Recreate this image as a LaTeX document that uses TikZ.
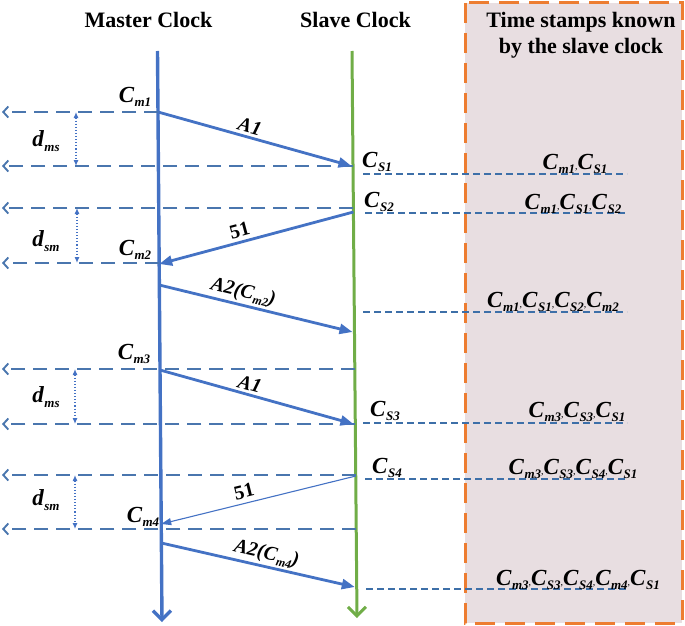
\documentclass[tikz,border=0pt]{standalone}
\usepackage{fontspec}
\setmainfont{Liberation Serif}
\usetikzlibrary{arrows.meta,calc}
\definecolor{mblue}{HTML}{4472C4}
\definecolor{sgreen}{HTML}{70AD47}
\definecolor{dblue}{HTML}{4A76AE}
\definecolor{rblue}{HTML}{3D6FA8}
\definecolor{obox}{HTML}{ED7D31}
\definecolor{bfill}{HTML}{E8DEE1}
\newcommand\TS[1]{{\fontsize{23}{23}\selectfont\bfseries\itshape C\kern0.5pt\raisebox{-0.4ex}{\fontsize{13}{13}\selectfont #1}}}
\newcommand\TSs[1]{{\fontsize{20}{20}\selectfont\bfseries\itshape C\kern0.5pt\raisebox{-0.4ex}{\fontsize{12}{12}\selectfont #1}}}
\newcommand\DD[1]{{\fontsize{23}{23}\selectfont\bfseries\itshape d\kern0.5pt\raisebox{-0.4ex}{\fontsize{13}{13}\selectfont #1}}}
\begin{document}
\begin{tikzpicture}[x=1pt,y=-1pt,
  hdr/.style={font=\fontsize{22}{26}\selectfont\bfseries, inner sep=0pt},
  msg/.style={mblue, line width=2.8pt, -{Triangle[length=13pt,width=10pt]}},
  msgthin/.style={mblue, line width=1.1pt, -{Triangle[length=10pt,width=7pt]}},
  ldash/.style={dblue, line width=1.9pt, dash pattern=on 14pt off 8pt, -{Straight Barb[length=5pt,width=11pt]}},
  rdash/.style={rblue, line width=1.6pt, dash pattern=on 7pt off 4pt},
  dint/.style={mblue, line width=1.1pt, dotted, {Latex[length=6pt,width=5pt]}-{Latex[length=6pt,width=5pt]}},
  alab/.style={font=\fontsize{20}{20}\selectfont\bfseries\itshape, sloped, inner sep=0pt},
  tlab/.style={inner sep=0pt}
]
\useasboundingbox (0,0) rectangle (685,626);

% knowledge box
\draw[obox, line width=3pt, dash pattern=on 20pt off 10pt, fill=bfill] (465,3) rectangle (682,623);
\node[hdr, align=center] (kbt) at (581,35) {Time stamps known\\by the slave clock};

% headers
\node[hdr, anchor=base] (mhdr) at (148.5,28) {Master Clock};
\node[hdr, anchor=base] (shdr) at (355.5,28) {Slave Clock};

% clock lines
\coordinate (mtop) at (157.5,51);
\coordinate (mbot) at (162,622);
\coordinate (stop) at (352,51);
\coordinate (sbot) at (357,618);
\draw[mblue, line width=3.4pt, -{Straight Barb[length=9pt,width=18pt]}] (mtop) -- (mbot);
\draw[sgreen, line width=3pt, -{Straight Barb[length=9pt,width=18pt]}] (stop) -- (sbot);

% points on master
\coordinate (pm1) at (158,112);
\coordinate (pm2) at (159.2,264);
\coordinate (pm2b) at (159.3,285);
\coordinate (pm3) at (160,370);
\coordinate (pm4) at (161.2,524);
\coordinate (pm4b) at (161.4,543);
% points on slave
\coordinate (ps1) at (351.5,166);
\coordinate (ps2) at (353.4,212);
\coordinate (pa2) at (352.5,332);
\coordinate (ps3) at (353.5,424);
\coordinate (ps4) at (355.8,476);
\coordinate (pa4) at (354.8,587);

% left dashed lines
\coordinate (l1) at (2,112);
\coordinate (l2) at (2,166);
\coordinate (l3) at (2,208);
\coordinate (l4) at (2,263);
\coordinate (l5) at (2,369);
\coordinate (l6) at (2,424);
\coordinate (l7) at (2,475);
\coordinate (l8) at (2,529);
\coordinate (e1) at (158,112);
\coordinate (e2) at (353,166);
\coordinate (e3) at (353.4,208);
\coordinate (e4) at (159.2,263);
\coordinate (e5) at (354.5,369);
\coordinate (e6) at (355.3,424);
\coordinate (e7) at (355.8,475);
\coordinate (e8) at (356.3,529);
\foreach \i in {1,...,8} { \draw[ldash] (e\i) -- (l\i); }

% right dashed lines
\foreach \y/\x in {174/363, 213/365, 312/363, 423/363, 479/365, 589/366} {
  \draw[rdash] (\x,\y) -- (627,\y);
}

% interval arrows
\coordinate (d1a) at (76,112); \coordinate (d1b) at (76,166);
\coordinate (d2a) at (77,208); \coordinate (d2b) at (77,263);
\coordinate (d3a) at (75,369); \coordinate (d3b) at (75,424);
\coordinate (d4a) at (75,475); \coordinate (d4b) at (75,529);
\draw[dint] (d1a) -- (d1b);
\draw[dint] (d2a) -- (d2b);
\draw[dint] (d3a) -- (d3b);
\draw[dint] (d4a) -- (d4b);
\node[tlab] (dl1) at (46,141) {\DD{ms}};
\node[tlab] (dl2) at (46,241) {\DD{sm}};
\node[tlab] (dl3) at (46,397) {\DD{ms}};
\node[tlab] (dl4) at (46,500) {\DD{sm}};

% messages
\draw[msg] (pm1) -- (ps1);
\path (pm1) -- node[alab, pos=0.46, above=4pt] (la1) {A1} (ps1);
\draw[msg] (ps2) -- (pm2);
\path (pm2) -- node[alab, pos=0.43, above=5pt, font=\fontsize{20}{20}\selectfont\bfseries] (l51a) {51} (ps2);
\draw[msg] (pm2b) -- (pa2);
\path (pm2b) -- node[alab, pos=0.42, above=3pt] (la2a) {A2(\TSs{m2})} (pa2);
\draw[msg] (pm3) -- (ps3);
\path (pm3) -- node[alab, pos=0.45, above=4pt] (la1b) {A1} (ps3);
\draw[msgthin] (ps4) -- (pm4);
\path (pm4) -- node[alab, pos=0.44, above=5pt, font=\fontsize{20}{20}\selectfont\bfseries] (l51b) {51} (ps4);
\draw[msg] (pm4b) -- (pa4);
\path (pm4b) -- node[alab, pos=0.53, above=3pt] (la2b) {A2(\TSs{m4})} (pa4);

% time stamp labels
\node[tlab] (cm1) at (135,97) {\TS{m1}};
\node[tlab] (cs1) at (377,162) {\TS{S1}};
\node[tlab] (cs2) at (379,202) {\TS{S2}};
\node[tlab] (cm2) at (135,250) {\TS{m2}};
\node[tlab] (cm3) at (134,354) {\TS{m3}};
\node[tlab] (cs3) at (385,411) {\TS{S3}};
\node[tlab] (cs4) at (387,468) {\TS{S4}};
\node[tlab] (cm4) at (143,517) {\TS{m4}};

% known time stamps
\node[tlab] (k1) at (575,164) {\TS{m1},\TS{S1}};
\node[tlab] (k2) at (573,204) {\TS{m1},\TS{S1},\TS{S2}};
\node[tlab] (k3) at (553,302) {\TS{m1},\TS{S1},\TS{S2},\TS{m2}};
\node[tlab] (k4) at (577,412) {\TS{m3},\TS{S3},\TS{S1}};
\node[tlab] (k5) at (573,469) {\TS{m3},\TS{S3},\TS{S4},\TS{S1}};
\node[tlab] (k6) at (578,580) {\TS{m3},\TS{S3},\TS{S4},\TS{m4},\TS{S1}};
\end{tikzpicture}
\end{document}
